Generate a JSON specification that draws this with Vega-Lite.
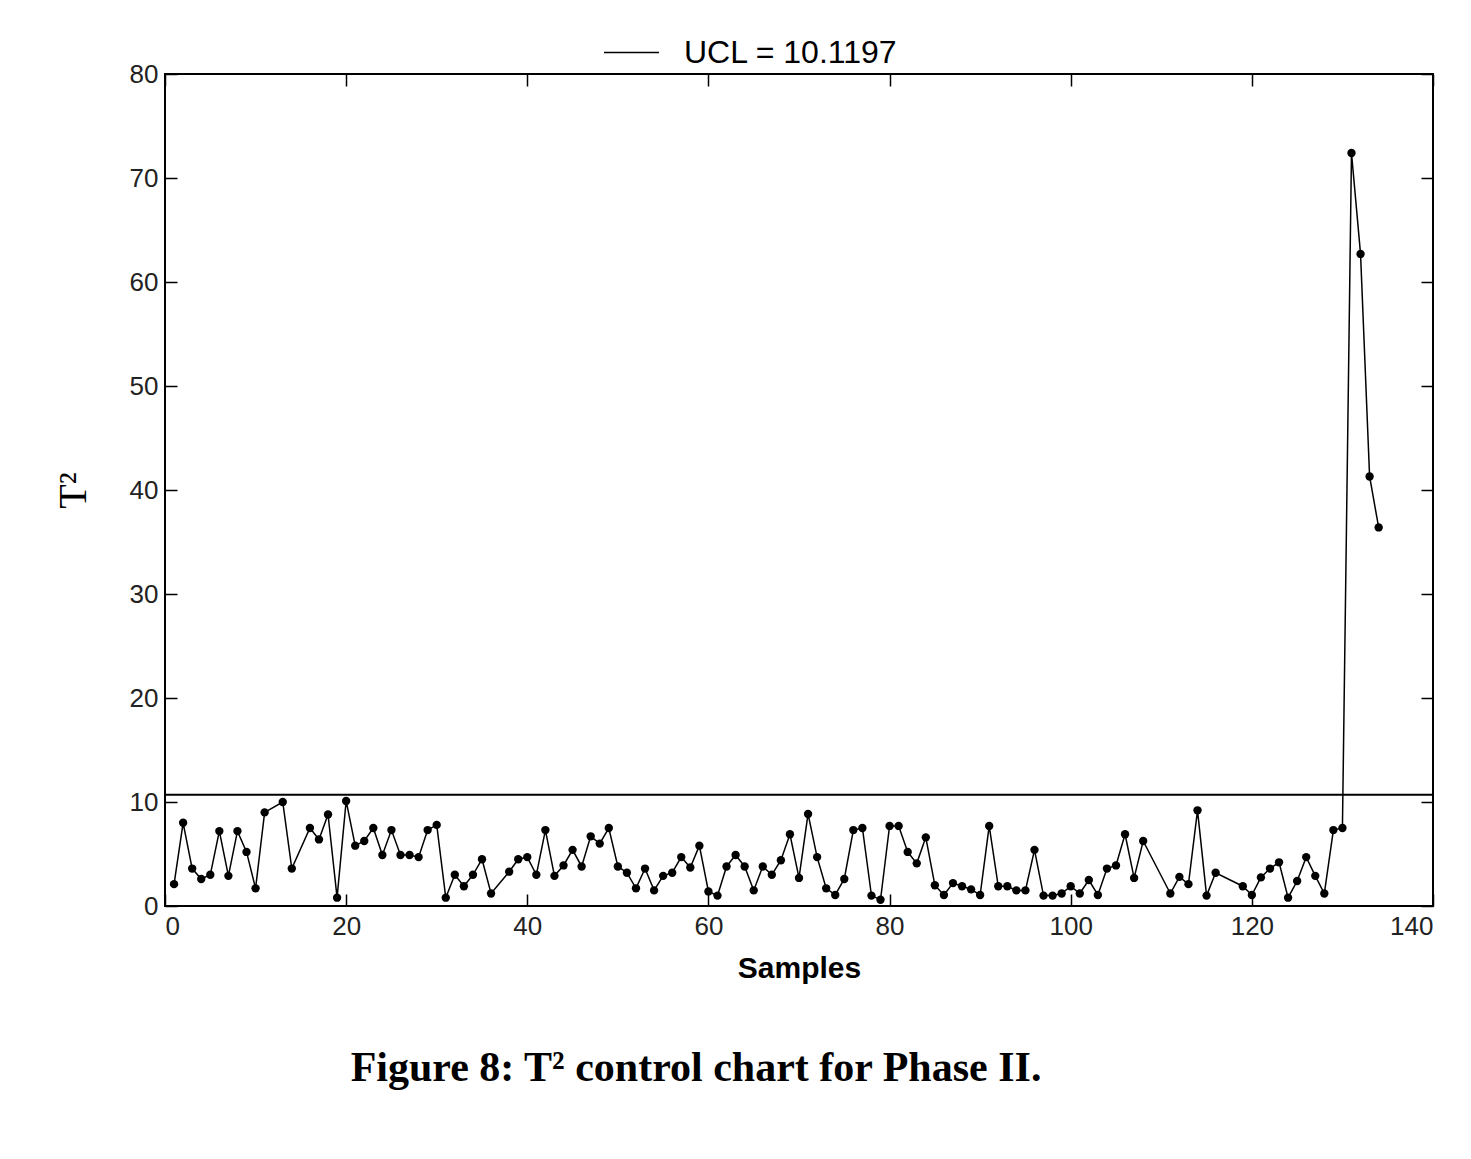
{
  "$schema": "https://vega.github.io/schema/vega-lite/v6.json",
  "description": "T2 control chart for Phase II with the UCL line.",
  "width": 1268,
  "height": 832,
  "autosize": {"type": "none"},
  "padding": {"left": 165, "top": 74, "right": 38, "bottom": 253},
  "background": "white",
  "datasets": {
    "t2": [
      {"sample": 1, "t2": 2.1}, {"sample": 2, "t2": 8.0}, {"sample": 3, "t2": 3.6}, {"sample": 4, "t2": 2.6},
      {"sample": 5, "t2": 3.0}, {"sample": 6, "t2": 7.2}, {"sample": 7, "t2": 2.9}, {"sample": 8, "t2": 7.2},
      {"sample": 9, "t2": 5.2}, {"sample": 10, "t2": 1.7}, {"sample": 11, "t2": 9.0}, {"sample": 13, "t2": 10.0},
      {"sample": 14, "t2": 3.6}, {"sample": 16, "t2": 7.5}, {"sample": 17, "t2": 6.4}, {"sample": 18, "t2": 8.8},
      {"sample": 19, "t2": 0.8}, {"sample": 20, "t2": 10.1}, {"sample": 21, "t2": 5.8}, {"sample": 22, "t2": 6.25},
      {"sample": 23, "t2": 7.5}, {"sample": 24, "t2": 4.9}, {"sample": 25, "t2": 7.3}, {"sample": 26, "t2": 4.9},
      {"sample": 27, "t2": 4.9}, {"sample": 28, "t2": 4.7}, {"sample": 29, "t2": 7.3}, {"sample": 30, "t2": 7.8},
      {"sample": 31, "t2": 0.8}, {"sample": 32, "t2": 3.0}, {"sample": 33, "t2": 1.9}, {"sample": 34, "t2": 3.0},
      {"sample": 35, "t2": 4.5}, {"sample": 36, "t2": 1.2}, {"sample": 38, "t2": 3.3}, {"sample": 39, "t2": 4.5},
      {"sample": 40, "t2": 4.7}, {"sample": 41, "t2": 3.0}, {"sample": 42, "t2": 7.3}, {"sample": 43, "t2": 2.9},
      {"sample": 44, "t2": 3.9}, {"sample": 45, "t2": 5.4}, {"sample": 46, "t2": 3.8}, {"sample": 47, "t2": 6.7},
      {"sample": 48, "t2": 6.0}, {"sample": 49, "t2": 7.5}, {"sample": 50, "t2": 3.8}, {"sample": 51, "t2": 3.2},
      {"sample": 52, "t2": 1.7}, {"sample": 53, "t2": 3.6}, {"sample": 54, "t2": 1.5}, {"sample": 55, "t2": 2.9},
      {"sample": 56, "t2": 3.2}, {"sample": 57, "t2": 4.7}, {"sample": 58, "t2": 3.7}, {"sample": 59, "t2": 5.8},
      {"sample": 60, "t2": 1.4}, {"sample": 61, "t2": 1.0}, {"sample": 62, "t2": 3.8}, {"sample": 63, "t2": 4.9},
      {"sample": 64, "t2": 3.8}, {"sample": 65, "t2": 1.5}, {"sample": 66, "t2": 3.8}, {"sample": 67, "t2": 3.0},
      {"sample": 68, "t2": 4.4}, {"sample": 69, "t2": 6.9}, {"sample": 70, "t2": 2.7}, {"sample": 71, "t2": 8.85},
      {"sample": 72, "t2": 4.7}, {"sample": 73, "t2": 1.7}, {"sample": 74, "t2": 1.06}, {"sample": 75, "t2": 2.6},
      {"sample": 76, "t2": 7.3}, {"sample": 77, "t2": 7.5}, {"sample": 78, "t2": 1.0}, {"sample": 79, "t2": 0.6},
      {"sample": 80, "t2": 7.7}, {"sample": 81, "t2": 7.7}, {"sample": 82, "t2": 5.2}, {"sample": 83, "t2": 4.1},
      {"sample": 84, "t2": 6.6}, {"sample": 85, "t2": 2.0}, {"sample": 86, "t2": 1.06}, {"sample": 87, "t2": 2.2},
      {"sample": 88, "t2": 1.9}, {"sample": 89, "t2": 1.6}, {"sample": 90, "t2": 1.06}, {"sample": 91, "t2": 7.7},
      {"sample": 92, "t2": 1.9}, {"sample": 93, "t2": 1.9}, {"sample": 94, "t2": 1.5}, {"sample": 95, "t2": 1.5},
      {"sample": 96, "t2": 5.4}, {"sample": 97, "t2": 1.0}, {"sample": 98, "t2": 1.0}, {"sample": 99, "t2": 1.2},
      {"sample": 100, "t2": 1.9}, {"sample": 101, "t2": 1.2}, {"sample": 102, "t2": 2.5}, {"sample": 103, "t2": 1.06},
      {"sample": 104, "t2": 3.6}, {"sample": 105, "t2": 3.9}, {"sample": 106, "t2": 6.9}, {"sample": 107, "t2": 2.7},
      {"sample": 108, "t2": 6.25}, {"sample": 111, "t2": 1.2}, {"sample": 112, "t2": 2.8}, {"sample": 113, "t2": 2.1},
      {"sample": 114, "t2": 9.2}, {"sample": 115, "t2": 1.0}, {"sample": 116, "t2": 3.2}, {"sample": 119, "t2": 1.9},
      {"sample": 120, "t2": 1.06}, {"sample": 121, "t2": 2.75}, {"sample": 122, "t2": 3.6}, {"sample": 123, "t2": 4.2},
      {"sample": 124, "t2": 0.8}, {"sample": 125, "t2": 2.4}, {"sample": 126, "t2": 4.7}, {"sample": 127, "t2": 2.9},
      {"sample": 128, "t2": 1.2}, {"sample": 129, "t2": 7.3}, {"sample": 130, "t2": 7.5}, {"sample": 131, "t2": 72.4},
      {"sample": 132, "t2": 62.7}, {"sample": 133, "t2": 41.3}, {"sample": 134, "t2": 36.4}
    ],
    "ucl": [
      {"ucl": 10.7, "label": "UCL = 10.1197"}
    ]
  },
  "title": {
    "text": "Figure 8: T² control chart for Phase II.",
    "orient": "bottom",
    "anchor": "middle",
    "dx": -103,
    "offset": 65,
    "font": "Liberation Serif",
    "fontSize": 42,
    "fontWeight": "bold",
    "color": "black"
  },
  "layer": [
    {
      "data": {"name": "t2"},
      "mark": {
        "type": "line",
        "color": "black",
        "strokeWidth": 1.5,
        "point": {"filled": true, "size": 70, "color": "black"}
      },
      "encoding": {
        "x": {
          "field": "sample",
          "type": "quantitative",
          "scale": {"domain": [0, 140], "nice": false},
          "axis": {"orient": "bottom", "title": "Samples", "values": [0, 20, 40, 60, 80, 100, 120, 140]}
        },
        "y": {
          "field": "t2",
          "type": "quantitative",
          "scale": {"domain": [0, 80], "nice": false},
          "axis": {
            "orient": "left",
            "title": "T²",
            "titleFont": "Liberation Serif",
            "titleFontSize": 40,
            "titleFontWeight": "normal",
            "titlePadding": 36,
            "values": [0, 10, 20, 30, 40, 50, 60, 70, 80]
          }
        }
      }
    },
    {
      "data": {"name": "ucl"},
      "mark": {"type": "rule", "strokeWidth": 2},
      "encoding": {
        "y": {
          "field": "ucl",
          "type": "quantitative",
          "scale": {"domain": [0, 80], "nice": false},
          "axis": null
        },
        "color": {
          "field": "label",
          "type": "nominal",
          "scale": {"range": ["black"]},
          "legend": {
            "orient": "none",
            "legendX": 438,
            "legendY": -50,
            "title": null,
            "symbolType": "stroke",
            "symbolSize": 3025,
            "symbolStrokeWidth": 1.5,
            "labelFont": "Liberation Sans",
            "labelFontSize": 32,
            "labelLimit": 0,
            "labelOffset": 24,
            "labelColor": "black",
            "padding": 0
          }
        }
      }
    },
    {
      "data": {"name": "t2"},
      "mark": {"type": "point", "opacity": 0},
      "encoding": {
        "x": {
          "field": "sample",
          "type": "quantitative",
          "scale": {"domain": [0, 140], "nice": false},
          "axis": {"orient": "top", "title": null, "labels": false, "values": [0, 20, 40, 60, 80, 100, 120, 140]}
        },
        "y": {
          "field": "t2",
          "type": "quantitative",
          "scale": {"domain": [0, 80], "nice": false},
          "axis": {"orient": "right", "title": null, "labels": false, "values": [0, 10, 20, 30, 40, 50, 60, 70, 80]}
        }
      }
    }
  ],
  "resolve": {"axis": {"x": "independent", "y": "independent"}},
  "config": {
    "view": {"stroke": "black", "strokeWidth": 2},
    "axis": {
      "grid": false,
      "domain": false,
      "ticks": true,
      "tickSize": -12,
      "tickColor": "black",
      "tickWidth": 1.5,
      "labelFont": "Liberation Sans",
      "labelFontSize": 26,
      "labelColor": "#222222",
      "labelPadding": 19,
      "titleFont": "Liberation Sans",
      "titleFontSize": 30,
      "titleFontWeight": "bold",
      "titleColor": "black"
    },
    "axisBottom": {"titlePadding": 14}
  }
}
